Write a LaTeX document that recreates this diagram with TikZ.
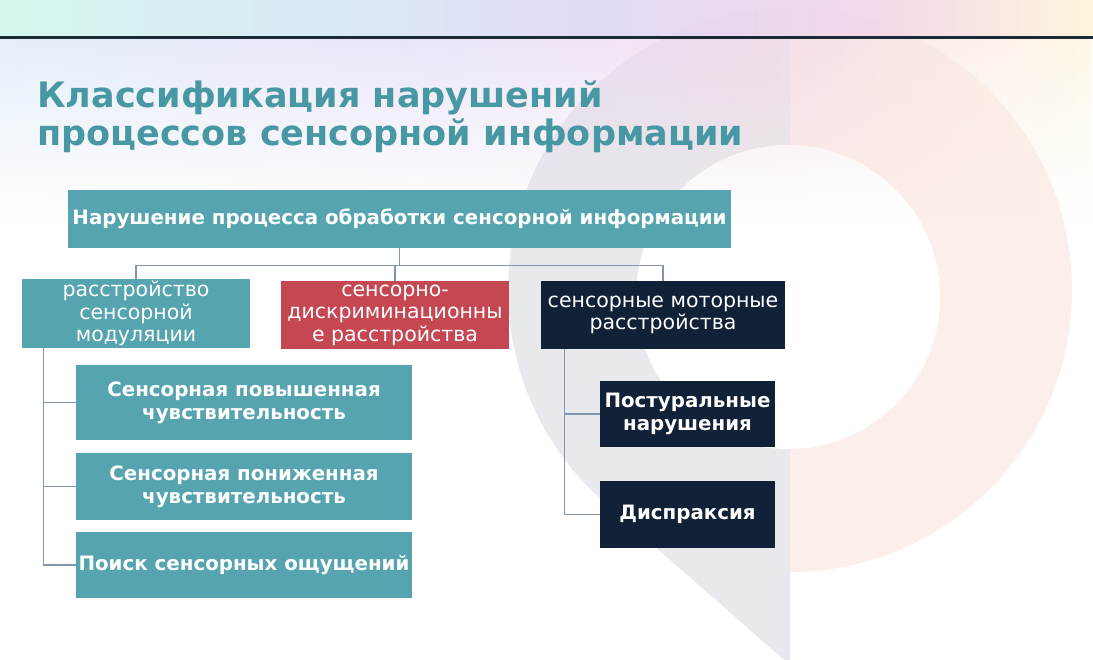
\documentclass[tikz,border=0pt]{standalone}
\usepackage{fontspec}
\setmainfont{DejaVu Sans}
\usetikzlibrary{fadings}
\definecolor{boxteal}{RGB}{86,164,175}
\definecolor{boxred}{RGB}{197,71,81}
\definecolor{boxnavy}{RGB}{17,33,55}
\definecolor{titleteal}{RGB}{72,152,163}
\definecolor{linkgrey}{RGB}{128,150,176}
\definecolor{ringgrey}{RGB}{232,233,236}
\definecolor{ringpeach}{RGB}{252,238,234}
\definecolor{bandmint}{RGB}{210,247,237}
\definecolor{bandblue}{RGB}{215,232,246}
\definecolor{bandlav}{RGB}{224,216,246}
\definecolor{bandpink}{RGB}{243,214,232}
\definecolor{bandcream}{RGB}{253,245,218}
\definecolor{rulenavy}{RGB}{28,42,55}
\pgfdeclarehorizontalshading{band}{100bp}{color(0bp)=(bandmint); color(25bp)=(bandmint); color(40bp)=(bandblue); color(53bp)=(bandlav); color(65bp)=(bandpink); color(75bp)=(bandcream); color(100bp)=(bandcream)}
\pgfdeclarehorizontalshading{haze}{100bp}{color(0bp)=(bandblue); color(25bp)=(bandblue); color(45bp)=(bandlav); color(60bp)=(bandpink); color(75bp)=(bandcream); color(100bp)=(bandcream)}
\tikzset{
  box/.style={rectangle, inner sep=2pt, align=center, text=white},
  head/.style={box, fill=boxteal, font=\bfseries\fontsize{19.8}{24}\selectfont},
  group/.style={box, font=\fontsize{20.5}{22.5}\selectfont},
  leaf/.style={box, font=\bfseries\fontsize{19.8}{23}\selectfont},
  link/.style={draw=linkgrey, line width=1.3pt}
}

\begin{document}
\begin{tikzpicture}[x=1pt,y=1pt]
  \useasboundingbox (0,0) rectangle (1093,660);
  \fill[white] (0,0) rectangle (1093,660);
  % background ring
  \fill[ringgrey] (790,-5) -- (604,158) arc[start angle=228.7, end angle=90, radius=282] -- cycle;
  \fill[ringpeach] (790,652) arc[start angle=90, end angle=-90, radius=282] -- cycle;
  \fill[white] (788,363) circle[radius=152];
  % top band
  \shade[shading=band, opacity=0.92] (0,623) rectangle (1093,660);
  \shade[shading=haze, path fading=south, opacity=0.65] (0,440) rectangle (1093,621);
  \draw[rulenavy, line width=3pt] (0,622) -- (1093,622);

  \node[anchor=base west, inner sep=0pt, text=titleteal, font=\bfseries\fontsize{35}{38}\selectfont] (title1) at (37,552) {Классификация нарушений};
  \node[anchor=base west, inner sep=0pt, text=titleteal, font=\bfseries\fontsize{35}{38}\selectfont] (title2) at (37,514) {процессов сенсорной информации};

  \node[head, minimum width=663pt, minimum height=58pt] (root) at (399.5,441) {Нарушение процесса обработки сенсорной информации};

  \node[group, fill=boxteal, minimum width=228pt, minimum height=67pt] (modul) at (136,346.5) {расстройство\\сенсорной\\модуляции};
  \node[group, fill=boxred, minimum width=228pt, minimum height=68pt] (discr) at (395,345) {сенсорно-\\дискриминационны\\е расстройства};
  \node[group, fill=boxnavy, minimum width=244pt, minimum height=68pt] (motor) at (663,345) {сенсорные моторные\\расстройства};

  \node[leaf, fill=boxteal, minimum width=336pt, minimum height=75pt] (hyper) at (244,257.5) {Сенсорная повышенная\\чувствительность};
  \node[leaf, fill=boxteal, minimum width=336pt, minimum height=67pt] (hypo) at (244,173.5) {Сенсорная пониженная\\чувствительность};
  \node[leaf, fill=boxteal, minimum width=336pt, minimum height=66pt] (seek) at (244,95) {Поиск сенсорных ощущений};

  \node[leaf, fill=boxnavy, minimum width=175pt, minimum height=66pt] (postur) at (687.5,246) {Постуральные\\нарушения};
  \node[leaf, fill=boxnavy, minimum width=175pt, minimum height=67pt] (dyspr) at (687.5,145.5) {Диспраксия};

  \foreach \grp in {modul,discr,motor}
    \draw[link] (root.south) -- ++(0,-17) -| (\grp.north);
  \foreach \kid in {hyper,hypo,seek}
    \draw[link] ([xshift=22pt]modul.south west) |- (\kid.west);
  \foreach \kid in {postur,dyspr}
    \draw[link] ([xshift=24pt]motor.south west) |- (\kid.west);
\end{tikzpicture}
\end{document}
